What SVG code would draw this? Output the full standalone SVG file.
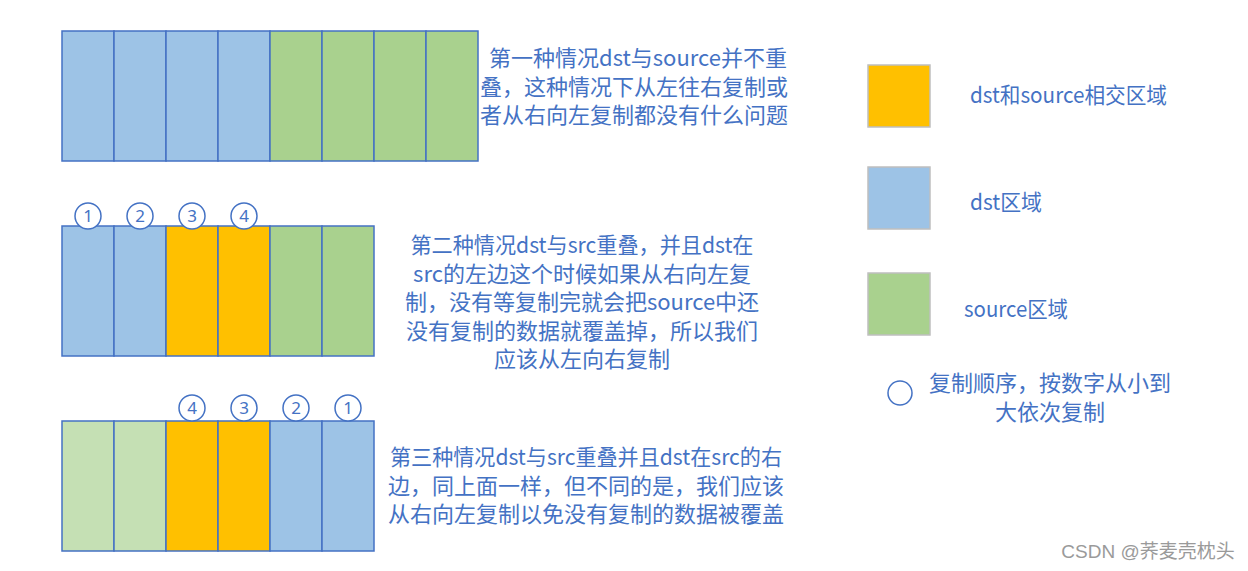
<svg xmlns="http://www.w3.org/2000/svg" width="1248" height="571" viewBox="0 0 1248 571">
<style>
.c{stroke:#4472C4;stroke-width:1.5}
.b{fill:#9DC3E6}.g{fill:#A9D18E}.lg{fill:#C5E0B4}.o{fill:#FFC000}
.t{font-family:"Noto Sans CJK SC","Noto Sans",sans-serif;font-size:22px;fill:#4472C4;text-anchor:middle}
.s{text-anchor:start}
.n{font-family:"Noto Sans","Liberation Sans",sans-serif;font-size:17px;fill:#4472C4;text-anchor:middle}
.ci{fill:#fff;stroke:#4472C4;stroke-width:1.5}
.leg{stroke:#BFBFBF;stroke-width:1.5}
</style>
<rect width="1248" height="571" fill="#fff"/>
<g id="row1">
<rect class="c b" x="62" y="31" width="52" height="130"/>
<rect class="c b" x="114" y="31" width="52" height="130"/>
<rect class="c b" x="166" y="31" width="52" height="130"/>
<rect class="c b" x="218" y="31" width="52" height="130"/>
<rect class="c g" x="270" y="31" width="52" height="130"/>
<rect class="c g" x="322" y="31" width="52" height="130"/>
<rect class="c g" x="374" y="31" width="52" height="130"/>
<rect class="c g" x="426" y="31" width="52" height="130"/>
</g>
<g id="text1">
<text class="t" x="638" y="66">第一种情况dst与source并不重</text>
<text class="t" x="634" y="95">叠，这种情况下从左往右复制或</text>
<text class="t" x="634" y="123">者从右向左复制都没有什么问题</text>
</g>
<g id="row2">
<rect class="c b" x="62" y="226" width="52" height="130"/>
<rect class="c b" x="114" y="226" width="52" height="130"/>
<rect class="c o" x="166" y="226" width="52" height="130"/>
<rect class="c o" x="218" y="226" width="52" height="130"/>
<rect class="c g" x="270" y="226" width="52" height="130"/>
<rect class="c g" x="322" y="226" width="52" height="130"/>
<circle class="ci" cx="88" cy="216" r="13"/><text class="n" x="88" y="222">1</text>
<circle class="ci" cx="140" cy="216" r="13"/><text class="n" x="140" y="222">2</text>
<circle class="ci" cx="192" cy="216" r="13"/><text class="n" x="192" y="222">3</text>
<circle class="ci" cx="244" cy="216" r="13"/><text class="n" x="244" y="222">4</text>
</g>
<g id="text2">
<text class="t" x="582" y="253" textLength="343" lengthAdjust="spacingAndGlyphs">第二种情况dst与src重叠，并且dst在</text>
<text class="t" x="582" y="282">src的左边这个时候如果从右向左复</text>
<text class="t" x="582" y="310">制，没有等复制完就会把source中还</text>
<text class="t" x="582" y="339">没有复制的数据就覆盖掉，所以我们</text>
<text class="t" x="582" y="367">应该从左向右复制</text>
</g>
<g id="row3">
<rect class="c lg" x="62" y="421" width="52" height="130"/>
<rect class="c lg" x="114" y="421" width="52" height="130"/>
<rect class="c o" x="166" y="421" width="52" height="130"/>
<rect class="c o" x="218" y="421" width="52" height="130"/>
<rect class="c b" x="270" y="421" width="52" height="130"/>
<rect class="c b" x="322" y="421" width="52" height="130"/>
<circle class="ci" cx="192" cy="408" r="13"/><text class="n" x="192" y="414">4</text>
<circle class="ci" cx="244" cy="408" r="13"/><text class="n" x="244" y="414">3</text>
<circle class="ci" cx="296" cy="408" r="13"/><text class="n" x="296" y="414">2</text>
<circle class="ci" cx="348" cy="408" r="13"/><text class="n" x="348" y="414">1</text>
</g>
<g id="text3">
<text class="t" x="586" y="465" textLength="392" lengthAdjust="spacingAndGlyphs">第三种情况dst与src重叠并且dst在src的右</text>
<text class="t" x="586" y="494">边，同上面一样，但不同的是，我们应该</text>
<text class="t" x="586" y="522">从右向左复制以免没有复制的数据被覆盖</text>
</g>
<g id="legend">
<rect class="leg o" x="868" y="65" width="62" height="62"/>
<text class="t s" x="970" y="103" textLength="197" lengthAdjust="spacingAndGlyphs">dst和source相交区域</text>
<rect class="leg b" x="868" y="167" width="62" height="62"/>
<text class="t s" x="970" y="210" textLength="72" lengthAdjust="spacingAndGlyphs">dst区域</text>
<rect class="leg g" x="868" y="273" width="62" height="62"/>
<text class="t s" x="964" y="317" textLength="104" lengthAdjust="spacingAndGlyphs">source区域</text>
<circle class="ci" cx="900" cy="393" r="12"/>
<text class="t" x="1050" y="391">复制顺序，按数字从小到</text>
<text class="t" x="1050" y="420">大依次复制</text>
</g>
<text x="1148" y="558" style="font-family:'Liberation Sans','Noto Sans CJK SC',sans-serif;font-size:19px;fill:#9a9a9a;text-anchor:middle">CSDN @荞麦壳枕头</text>
</svg>
